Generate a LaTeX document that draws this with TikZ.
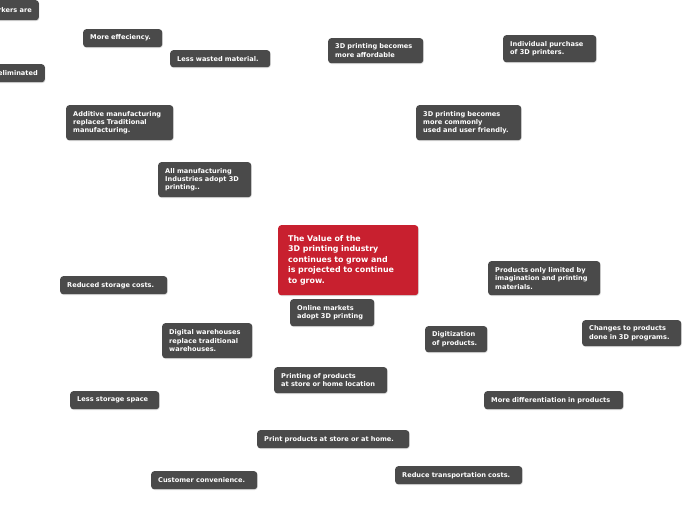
\documentclass[tikz,border=0pt]{standalone}
\usepackage{fontspec}
\setmainfont{DejaVu Sans}
\usetikzlibrary{shadows}
\definecolor{boxg}{HTML}{4A4A4A}
\definecolor{boxr}{HTML}{C8202F}
\tikzset{
 bx/.style={fill=boxg,text=white,rounded corners=3pt,anchor=north west,align=left,inner xsep=7pt,inner ysep=0pt,
   font=\bfseries\fontsize{6.6}{8.4}\selectfont,drop shadow={shadow xshift=0.6pt,shadow yshift=-0.8pt,opacity=0.3}},
 rb/.style={bx,fill=boxr,font=\bfseries\fontsize{7.9}{10.6}\selectfont,inner xsep=10pt},
}
\newcommand{\bxat}[7]{\node[#1,text width={#4-#2-14},minimum height={#5-#3}] (#6) at (#2,#3) {#7};}
\begin{document}
\begin{tikzpicture}[x=1pt,y=-1pt]
\useasboundingbox (0,0) rectangle (697,520);
\begin{scope}
\clip (0,0) rectangle (697,520);
\node[bx,anchor=north east,minimum height=20,align=right] (w) at (39,0) {Workers are};
\node[bx,anchor=north east,minimum height=18,align=right] (el) at (45,64) {eliminated};
\end{scope}
\bxat{bx}{83}{29}{162}{47}{a}{More effeciency.}
\bxat{bx}{170}{50}{270}{67}{b}{Less wasted material.}
\bxat{bx}{66}{105}{173}{140}{c}{Additive manufacturing\\replaces Traditional\\manufacturing.}
\bxat{bx}{158}{162}{251}{197}{d}{All manufacturing\\Industries adopt 3D\\printing..}
\bxat{bx}{328}{38}{423}{63}{e}{3D printing becomes\\more affordable}
\bxat{bx}{503}{35}{596}{62}{f}{Individual purchase\\of 3D printers.}
\bxat{bx}{416}{105}{521}{140}{g}{3D printing becomes\\more commonly\\used and user friendly.}
\node[rb,text width=120,minimum height=70] (c0) at (278,225) {The Value of the\\3D printing industry\\continues to grow and\\is projected to continue\\to grow.};
\bxat{bx}{290}{299}{374}{326}{h}{Online markets\\adopt 3D printing}
\bxat{bx}{488}{261}{600}{295}{i}{Products only limited by\\imagination and printing\\materials.}
\bxat{bx}{60}{276}{167}{294}{j}{Reduced storage costs.}
\bxat{bx}{162}{323}{252}{358}{k}{Digital warehouses\\replace traditional\\warehouses.}
\bxat{bx}{425}{326}{487}{352}{l}{Digitization\\of products.}
\bxat{bx}{582}{320}{681}{346}{m}{Changes to products\\done in 3D programs.}
\bxat{bx}{274}{367}{387}{393}{n}{Printing of products\\at store or home location}
\bxat{bx}{70}{391}{159}{409}{o}{Less storage space}
\bxat{bx}{484}{391}{623}{409}{p}{More differentiation in products}
\bxat{bx}{257}{430}{409}{448}{q}{Print products at store or at home.}
\bxat{bx}{151}{471}{257}{489}{r}{Customer convenience.}
\bxat{bx}{395}{466}{522}{484}{s}{Reduce transportation costs.}
\end{tikzpicture}
\end{document}
